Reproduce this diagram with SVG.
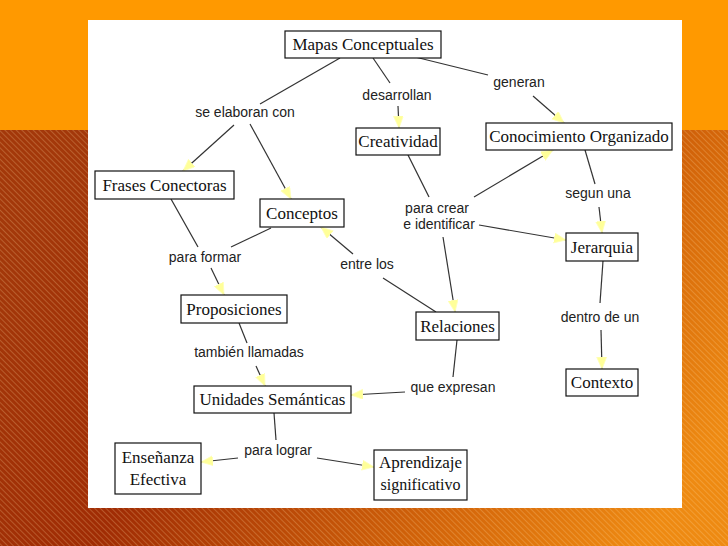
<svg xmlns="http://www.w3.org/2000/svg" width="728" height="546" viewBox="0 0 728 546">
<defs>
<linearGradient id="bg" x1="0" y1="0.3" x2="1" y2="0.7">
<stop offset="0" stop-color="#A3380A"/>
<stop offset="0.35" stop-color="#A02C04"/>
<stop offset="0.75" stop-color="#D4660A"/>
<stop offset="1" stop-color="#EE8A12"/>
</linearGradient>
<pattern id="stripes" width="4" height="4" patternUnits="userSpaceOnUse" patternTransform="rotate(45)">
<line x1="0" y1="0.5" x2="4" y2="0.5" stroke="#FFD9A0" stroke-width="0.7" stroke-opacity="0.35"/>
</pattern>
<marker id="arr" markerUnits="userSpaceOnUse" markerWidth="14" markerHeight="11" refX="12" refY="5" orient="auto">
<path d="M0,0 L12,5 L0,10 z" fill="#FFFF99" stroke="#FFFFB8" stroke-width="0.8"/>
</marker>
<style>
.box{fill:#fff;stroke:#111;stroke-width:1.2}
.nt{font-family:"Liberation Serif","Times New Roman",serif;font-size:17px;fill:#111;text-anchor:middle}
.lt{font-family:"Liberation Sans",Arial,sans-serif;font-size:14px;fill:#222;text-anchor:middle}
.c{stroke:#333;stroke-width:1.2;fill:none}
.a{marker-end:url(#arr)}
</style>
</defs>
<rect x="0" y="0" width="728" height="130" fill="#FF9900"/>
<rect x="0" y="130" width="728" height="416" fill="url(#bg)"/>
<rect x="0" y="130" width="728" height="416" fill="url(#stripes)"/>
<rect x="88" y="20" width="594" height="488" fill="#fff"/>

<g id="connectors">
<line class="c" x1="340" y1="58" x2="260" y2="104"/>
<line class="c a" x1="234" y1="125" x2="183" y2="171"/>
<line class="c a" x1="250" y1="124" x2="291" y2="199"/>
<line class="c" x1="373" y1="58" x2="390" y2="83"/>
<line class="c a" x1="398" y1="106" x2="399" y2="128"/>
<line class="c" x1="415" y1="57" x2="488" y2="75"/>
<line class="c a" x1="533" y1="96" x2="564" y2="123"/>
<line class="c" x1="408" y1="155" x2="429" y2="197"/>
<line class="c a" x1="474" y1="197" x2="553" y2="150"/>
<line class="c a" x1="479" y1="225" x2="566" y2="240"/>
<line class="c a" x1="443" y1="237" x2="455" y2="312"/>
<line class="c" x1="585" y1="150" x2="595" y2="184"/>
<line class="c a" x1="599" y1="207" x2="602" y2="233"/>
<line class="c" x1="603" y1="261" x2="600" y2="303"/>
<line class="c a" x1="601" y1="330" x2="602" y2="369"/>
<line class="c" x1="171" y1="199" x2="198" y2="247"/>
<line class="c a" x1="211" y1="268" x2="224" y2="295"/>
<line class="c" x1="271" y1="228" x2="231" y2="247"/>
<line class="c" x1="436" y1="312" x2="383" y2="278"/>
<line class="c a" x1="353" y1="254" x2="321" y2="227"/>
<line class="c" x1="239" y1="323" x2="247" y2="343"/>
<line class="c a" x1="256" y1="366" x2="265" y2="386"/>
<line class="c" x1="457" y1="340" x2="453" y2="377"/>
<line class="c a" x1="405" y1="392" x2="351" y2="395"/>
<line class="c" x1="274" y1="413" x2="276" y2="440"/>
<line class="c a" x1="238" y1="458" x2="201" y2="462"/>
<line class="c a" x1="317" y1="458" x2="374" y2="467"/>
</g>

<g id="labels">
<text class="lt" x="245" y="117">se elaboran con</text>
<text class="lt" x="397" y="100">desarrollan</text>
<text class="lt" x="519" y="87">generan</text>
<text class="lt" x="437" y="213">para crear</text>
<text class="lt" x="439" y="229">e identificar</text>
<text class="lt" x="598" y="198">segun una</text>
<text class="lt" x="600" y="322">dentro de un</text>
<text class="lt" x="205" y="262">para formar</text>
<text class="lt" x="367" y="269">entre los</text>
<text class="lt" x="249" y="357">también llamadas</text>
<text class="lt" x="453" y="392">que expresan</text>
<text class="lt" x="278" y="455">para lograr</text>
</g>

<g id="mapas"><rect class="box" x="285" y="31" width="156" height="27"/><text class="nt" x="363" y="50">Mapas Conceptuales</text></g>
<g id="creatividad"><rect class="box" x="356" y="128" width="84" height="27"/><text class="nt" x="398" y="147">Creatividad</text></g>
<g id="conocimiento"><rect class="box" x="486" y="123" width="186" height="27"/><text class="nt" x="579" y="142">Conocimiento Organizado</text></g>
<g id="frases"><rect class="box" x="95" y="171" width="139" height="28"/><text class="nt" x="164.5" y="191">Frases Conectoras</text></g>
<g id="conceptos"><rect class="box" x="260" y="199" width="84" height="28"/><text class="nt" x="302" y="219">Conceptos</text></g>
<g id="jerarquia"><rect class="box" x="566" y="233" width="72" height="28"/><text class="nt" x="602" y="253">Jerarquia</text></g>
<g id="relaciones"><rect class="box" x="416" y="312" width="83" height="28"/><text class="nt" x="457.5" y="332">Relaciones</text></g>
<g id="proposiciones"><rect class="box" x="181" y="295" width="106" height="28"/><text class="nt" x="234" y="315">Proposiciones</text></g>
<g id="unidades"><rect class="box" x="194" y="386" width="157" height="27"/><text class="nt" x="272.5" y="405">Unidades Semánticas</text></g>
<g id="contexto"><rect class="box" x="566" y="369" width="72" height="27"/><text class="nt" x="602" y="388">Contexto</text></g>
<g id="ensenanza"><rect class="box" x="115" y="443" width="86" height="51"/><text class="nt" x="158" y="463">Enseñanza</text><text class="nt" x="158" y="485">Efectiva</text></g>
<g id="aprendizaje"><rect class="box" x="374" y="450" width="93" height="50"/><text class="nt" x="420.5" y="468">Aprendizaje</text><text class="nt" x="420.5" y="490" style="font-size:16px">significativo</text></g>
</svg>
